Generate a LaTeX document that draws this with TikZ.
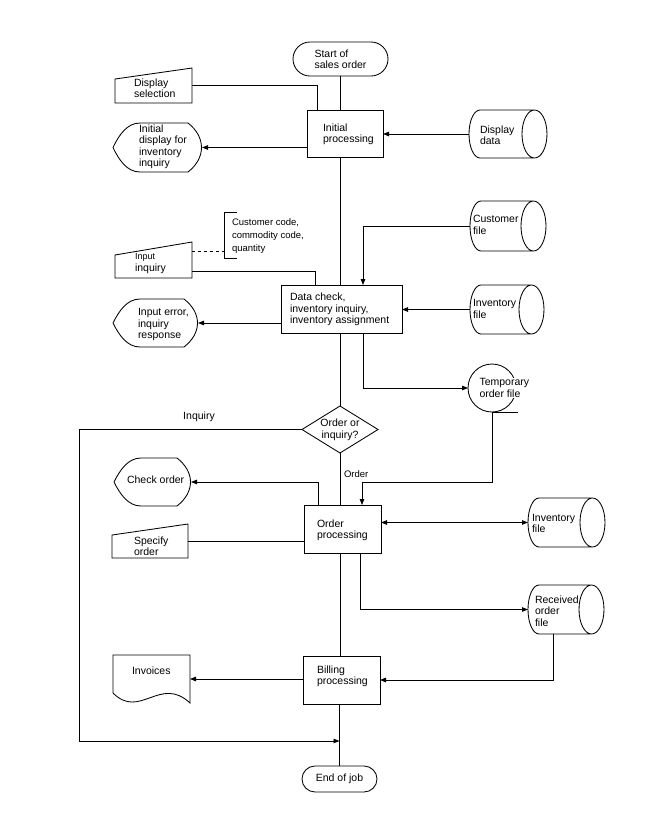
\documentclass[tikz,border=0pt]{standalone}
\usepackage{fontspec}
\setmainfont{Liberation Sans}
\usetikzlibrary{arrows.meta,shapes.misc,calc}
\newcommand\dispshape[1]{\draw let \p1=(#1.north west), \p2=(#1.south east) in
  (#1.west) .. controls (\x1+6pt,\y1-12pt) and (\x1+14pt,\y1) .. (\x1+27pt,\y1)
  -- (\x2-14pt,\y1) .. controls (\x2+4pt,\y1-14pt) and (\x2+4pt,\y2+14pt) .. (\x2-14pt,\y2)
  -- (\x1+27pt,\y2) .. controls (\x1+14pt,\y2) and (\x1+6pt,\y2+12pt) .. (#1.west) -- cycle;}
\newcommand\maninshape[2]{\draw let \p1=(#1.north west), \p2=(#1.south east) in
  (\x1,\y1-#2pt) -- (\x2,\y1) -- (\x2,\y2) -- (\x1,\y2) -- cycle;}
\newcommand\storshape[2]{\draw let \p1=(#1.north west), \p2=(#1.south east), \p3=(#1.east) in
  (\x2-12.5pt,\y1) -- (\x1+11pt,\y1) arc[start angle=90,end angle=270,x radius=11pt,y radius=#2pt]
  -- (\x2-12.5pt,\y2)
  (\x3-12.5pt,\y3) ellipse[x radius=12.5pt,y radius=#2pt];}
\newcommand\docshape[1]{\draw let \p1=(#1.north west), \p2=(#1.south east) in
  (\x1,\y2+10pt) -- (\x1,\y1) -- (\x2,\y1) -- (\x2,\y2)
  .. controls (\x1+47pt,\y2+28pt) and (\x1+27pt,\y2-17pt) .. (\x1,\y2+10pt) -- cycle;}
\begin{document}
\begin{tikzpicture}[x=1pt,y=-1pt,line width=0.85pt,
  >={Triangle[length=6pt,width=4.5pt]},
  bb/.style n args={2}{rectangle,draw=none,inner sep=0,outer sep=0,minimum width=#1,minimum height=#2},
  proc/.style={rectangle,draw,inner sep=0,outer sep=0},
  term/.style={rounded rectangle,draw,inner sep=0,outer sep=0,align=left,font=\fontsize{10.5}{11.5}\selectfont},
  txt/.style={font=\fontsize{10.5}{11.5}\selectfont,inner sep=0,outer sep=0,align=left,anchor=west}]
\useasboundingbox (0,0) rectangle (657,823);

% Start
\node[term,minimum width=95,minimum height=34] (start) at (340.5,59) {Start of\\sales order};

% Display selection
\node[bb={77}{35}] (dsel) at (153.5,85.5) {};
\maninshape{dsel}{11}
\node[txt] (dselT) at (134,88) {Display\\selection};

% Initial processing
\node[proc,minimum width=76,minimum height=47] (init) at (345,133.5) {};
\node[txt] (initT) at (323,134.5) {Initial\\processing};

% Initial display
\node[bb={89}{49}] (idisp) at (157.5,147.5) {};
\dispshape{idisp}
\node[txt] (idispT) at (139,147) {Initial\\display for\\inventory\\inquiry};

% Display data
\node[bb={78}{48}] (ddata) at (508,134) {};
\storshape{ddata}{24}
\node[txt] (ddataT) at (480,135) {Display\\data};

% Customer file
\node[bb={76}{50}] (cfile) at (508,226) {};
\storshape{cfile}{25}
\node[txt] (cfileT) at (473,225) {Customer\\file};

% Inventory file 1
\node[bb={74}{49}] (ifa) at (507,309.5) {};
\storshape{ifa}{24.5}
\node[txt] (ifaT) at (473,309) {Inventory\\file};

% Customer code annotation
\node[txt,font=\fontsize{9.5}{13}\selectfont] (ccode) at (232,236) {Customer code,\\commodity code,\\quantity};
\draw ([shift={(5,-24)}]ccode.west) -- ([shift={(-8,-24)}]ccode.west) -- ([shift={(-8,22)}]ccode.west) -- ([shift={(5,22)}]ccode.west);

% Input inquiry
\node[bb={77}{36}] (iinq) at (153.5,260) {};
\maninshape{iinq}{13}
\node[txt] (iinqT) at (135,263.5) {{\fontsize{9}{11.5}\selectfont Input}\\inquiry};

% Data check
\node[proc,minimum width=121,minimum height=48] (dchk) at (341.5,309) {};
\node[txt] (dchkT) at (290,309.5) {Data check,\\inventory inquiry,\\inventory assignment};

% Input error
\node[bb={85}{48}] (ierr) at (155.5,323) {};
\dispshape{ierr}
\node[txt] (ierrT) at (138,324.5) {Input error,\\inquiry\\response};

% Temporary order file
\node[circle,draw,minimum size=48,inner sep=0,outer sep=0] (tof) at (492,388) {};
\draw (tof.south) -- ++(26,0);
\node[txt,fill=white,inner sep=0.5pt] (tofT) at (479,388) {Temporary\\order file};

% Decision
\node[bb={76}{47}] (dec) at (340,429.5) {};
\draw (dec.north) -- (dec.east) -- (dec.south) -- (dec.west) -- cycle;
\node[txt,anchor=center,align=center] (decT) at (340,430) {Order or\\inquiry?};
\node[txt,anchor=center] (inqL) at (199,417) {Inquiry};
\node[txt,font=\fontsize{9.5}{11}\selectfont] (ordL) at (344,474) {Order};

% Check order
\node[bb={77}{48}] (chk) at (152.5,482) {};
\dispshape{chk}
\node[txt] (chkT) at (127,480) {Check order};

% Order processing
\node[proc,minimum width=77,minimum height=48] (ordp) at (342.5,529) {};
\node[txt] (ordpT) at (317,530.5) {Order\\processing};

% Specify order
\node[bb={76}{34}] (spec) at (150,541) {};
\maninshape{spec}{11}
\node[txt] (specT) at (134,546) {Specify\\order};

% Inventory file 2
\node[bb={77}{49}] (ifb) at (566.5,522.5) {};
\storshape{ifb}{24.5}
\node[txt] (ifbT) at (532,523.5) {Inventory\\file};

% Received order file
\node[bb={76}{49}] (rfile) at (566,609.5) {};
\storshape{rfile}{24.5}
\node[txt] (rfileT) at (535,611) {Received\\order\\file};

% Billing
\node[proc,minimum width=77,minimum height=48] (bill) at (341.5,680) {};
\node[txt] (billT) at (317,676.5) {Billing\\processing};

% Invoices
\node[bb={77}{48}] (inv) at (151.5,679) {};
\docshape{inv}
\node[txt] (invT) at (132,671) {Invoices};

% End
\node[term,minimum width=75,minimum height=26] (endt) at (339.5,779) {End of job};

% Connectors
\draw (start.south) -- (start.south |- init.north);
\draw (init.south -| dec.north) -- (dchk.north -| dec.north);
\draw (dchk.south -| dec.north) -- (dec.north);
\draw (dsel.east) -| ([xshift=-28]init.north);
\draw[->] (init.west |- idisp.east) -- (idisp.east);
\draw[->] (ddata.west) -- (init.east |- ddata.west);
\draw[->] (cfile.west) -| ([xshift=21.5]dchk.north);
\draw[->] (ifa.west) -- (dchk.east |- ifa.west);
\draw ([shift={(0,11)}]iinq.east) -| ([xshift=-26.5]dchk.north);
\draw[dashed,line width=0.6pt] ([shift={(0,-9)}]iinq.east) -- ([shift={(-8,15)}]ccode.west);
\draw[->] (dchk.west |- ierr.east) -- (ierr.east);
\draw[->] ([xshift=21.5]dchk.south) |- (tof.west);
\draw[->] (tof.south) -- ++(0,70) -| ([xshift=19.5]ordp.north);
\draw (dec.south) -- (dec.south |- ordp.north);
\coordinate (iq) at (79,741);
\draw[->] (dec.west) -| (iq) -- (endt.north |- iq);
\draw[->] ([xshift=-24.5]ordp.north) |- (chk.east);
\draw (spec.east) -- (ordp.west |- spec.east);
\draw[<->] (ordp.east |- ifb.west) -- (ifb.west);
\draw[->] ([xshift=17.5]ordp.south) |- (rfile.west);
\draw[->] ([xshift=-13]rfile.south) |- (bill.east);
\draw (ordp.south -| dec.south) -- (bill.north -| dec.south);
\draw[->] (bill.west |- inv.east) -- (inv.east);
\draw (bill.south -| endt.north) -- (endt.north);
\end{tikzpicture}
\end{document}
